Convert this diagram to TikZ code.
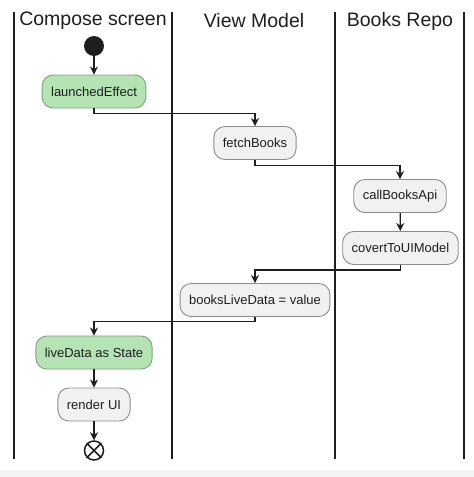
\documentclass[tikz,border=0pt]{standalone}
\usepackage{fontspec}
\setmainfont{Liberation Sans}
\usetikzlibrary{arrows.meta}
\definecolor{LaneLine}{HTML}{1E1E1E}
\definecolor{ActGreen}{HTML}{B4E4B4}
\definecolor{ActGreenLine}{HTML}{7F9F7F}
\definecolor{ActGray}{HTML}{F1F1F1}
\definecolor{ActGrayLine}{HTML}{8C8C8C}
\definecolor{FootGray}{HTML}{F3F3F3}

\tikzset{
  activity/.style={draw=ActGrayLine, fill=ActGray, rounded corners=11pt, line width=0.9pt,
    minimum height=33pt, inner xsep=9pt, font=\fontsize{13}{15}\selectfont, text=LaneLine},
  greenact/.style={activity, draw=ActGreenLine, fill=ActGreen},
  flow/.style={draw=LaneLine, line width=1.3pt, -{Stealth[length=8pt,width=8pt,inset=2.5pt]}},
  lane/.style={draw=LaneLine, line width=1.8pt},
  lanetitle/.style={font=\fontsize{19.5}{22}\selectfont, text=LaneLine}
}

\begin{document}
\begin{tikzpicture}[x=1pt,y=-1pt]
            \useasboundingbox (0,0) rectangle (474,477);
            \fill[FootGray] (0,470) rectangle (474,477);

            % swimlanes
            \draw[lane] (14,12) -- (14,459);
            \draw[lane] (172,12) -- (172,459);
            \draw[lane] (335,12) -- (335,459);
            \draw[lane] (464,12) -- (464,459);
            \node[lanetitle] (composeTitle) at (93,21) {Compose screen};
            \node[lanetitle] (vmTitle) at (254,21) {View Model};
            \node[lanetitle] (repoTitle) at (400,21) {Books Repo};

            % activities
            \node[circle, fill=LaneLine, minimum size=20pt, inner sep=0pt] (start) at (94,46) {};
            \node[greenact] (launched) at (94,91.5) {launchedEffect};
            \node[activity] (fetch) at (255,143) {fetchBooks};
            \node[activity] (callApi) at (400,196) {callBooksApi};
            \node[activity] (convert) at (400.5,248) {covertToUIModel};
            \node[activity] (liveValue) at (255,300) {booksLiveData = value};
            \node[greenact] (asState) at (94,352.5) {liveData as State};
            \node[activity] (render) at (94,404.5) {render UI};
            \node[circle, draw=LaneLine, line width=1.5pt, minimum size=19pt, inner sep=0pt] (stop) at (94,450.5) {};
            \draw[LaneLine, line width=1.5pt] (stop.45) -- (stop.225);
            \draw[LaneLine, line width=1.5pt] (stop.135) -- (stop.315);

            % connectors
            \draw[flow] (start) -- (launched);
            \draw[flow] (launched.south) -- ++(0,5) -| (fetch.north);
            \draw[flow] (fetch.south) -- ++(0,5.5) -| (callApi.north);
            \draw[flow] (callApi) -- (convert);
            \draw[flow] (convert.south) -- ++(0,5) -| (liveValue.north);
            \draw[flow] (liveValue.south) -- ++(0,4.5) -| (asState.north);
            \draw[flow] (asState) -- (render);
            \draw[flow] (render) -- (stop);
\end{tikzpicture}
\end{document}
